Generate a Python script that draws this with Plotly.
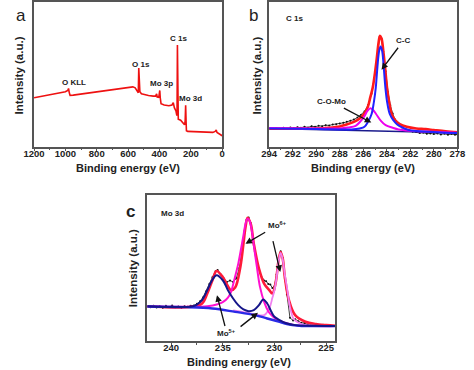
import plotly.graph_objects as go

# ---------------- Panel a: survey spectrum ----------------
survey_be = [1200, 1150, 1100, 1050, 1000, 985, 980, 975, 970, 950, 900, 850, 800, 750, 700,
             650, 600, 570, 555, 545, 535, 532, 529, 525, 515, 500, 470, 440, 425, 418, 414,
             412, 405, 398, 395, 390, 370, 340, 320, 312, 305, 295, 290, 288, 285.5, 283,
             280, 265, 250, 240, 236, 233, 230, 228, 220, 150, 100, 60, 45, 38, 33, 20, 10, 0]
survey_int = [148, 153, 156, 162, 166, 170, 176, 163, 155, 156, 159, 163, 167, 170, 172,
              175, 179, 181, 178, 170, 163, 238, 173, 166, 160, 158, 155, 153, 153, 160, 148,
              153, 148, 170, 148, 130, 126, 124, 126, 133, 118, 108, 96, 96, 308, 88,
              83, 80, 73, 66, 78, 125, 73, 48, 46, 45, 44, 43, 46, 50, 43, 38, 36, 33]
survey_labels = ["O KLL", "O 1s", "Mo 3p", "C 1s", "Mo 3d"]
survey_label_be = [943, 520, 384, 280, 204]
survey_label_int = [195, 248, 190, 326, 146]

# ---------------- Panel b: C 1s ----------------
c1s_raw_be = [294.0, 293.7, 293.4, 293.1, 292.8, 292.5, 292.2, 291.9, 291.6, 291.3, 291.0, 290.7,
              290.4, 290.1, 289.8, 289.5, 289.2, 288.9, 288.6, 288.3, 288.0, 287.7, 287.4, 287.1,
              286.8, 286.5, 286.2, 285.9, 285.6, 285.3, 285.0, 284.8, 284.6, 284.45, 284.3, 284.1,
              283.9, 283.7, 283.5, 283.3, 283.0, 282.7, 282.4, 282.1, 281.8, 281.5, 281.2, 280.9,
              280.6, 280.3, 280.0, 279.7, 279.4, 279.1, 278.8, 278.5, 278.2, 278.0]
c1s_raw_int = [55, 54, 56, 54, 57, 55, 58, 56, 59, 57, 60, 58,
               62, 60, 63, 62, 65, 64, 67, 68, 70, 72, 75, 78,
               82, 88, 96, 106, 125, 160, 222, 280, 333, 326, 288, 228,
               165, 125, 100, 82, 66, 58, 52, 48, 45, 44, 41, 42,
               39, 40, 38, 40, 37, 39, 36, 38, 36, 37]

c1s_env_be = [294, 292, 290, 289, 288, 287.5, 286.8, 286.3, 285.9, 285.6, 285.4, 285.2, 285.0,
              284.85, 284.7, 284.58, 284.45, 284.3, 284.15, 283.98, 283.8, 283.58, 283.3, 282.9,
              282.3, 281.5, 280.7, 280, 279, 278]
c1s_env_int = [54, 54, 55, 57, 61, 66, 75, 85, 100, 122, 150, 178, 225,
               268, 315, 336, 328, 290, 240, 178, 135, 98, 80, 68,
               60, 55, 53, 50, 46, 43]

c1s_cc_be = [294, 290, 287, 286.3, 285.9, 285.6, 285.3, 285.1, 284.94, 284.8, 284.65, 284.53,
             284.4, 284.25, 284.12, 283.95, 283.74, 283.45, 283.14, 282.7, 282.2, 281.5, 280.5,
             279, 278]
c1s_cc_int = [55, 53, 52, 55, 60, 75, 98, 135, 178, 240, 290, 303,
              290, 235, 178, 130, 98, 80, 68, 58, 51, 47, 45,
              42, 41]

c1s_como_be = [294, 290, 288, 287.3, 286.65, 286.2, 285.9, 285.65, 285.4, 285.15, 284.9, 284.5,
               284.1, 283.5, 283, 282, 281, 280, 278]
c1s_como_int = [56, 55, 55, 58, 63, 78, 92, 108, 116, 110, 98, 78,
                65, 57, 52, 48, 46, 45, 42]

c1s_bg_be = [294, 290, 286, 282, 278]
c1s_bg_int = [55, 52, 50, 45, 41]

# ---------------- Panel c: Mo 3d ----------------
mo_raw_be = [242.3, 242.0, 241.7, 241.4, 241.1, 240.8, 240.5, 240.2, 239.9, 239.6, 239.3, 239.0,
             238.7, 238.4, 238.1, 237.8, 237.5, 237.2, 236.9, 236.6, 236.3, 236.0, 235.7, 235.5,
             235.2, 234.9, 234.6, 234.3, 234.0, 233.7, 233.4, 233.1, 232.9, 232.7, 232.5, 232.3,
             232.1, 231.9, 231.6, 231.3, 231.0, 230.8, 230.6, 230.4, 230.2, 230.0, 229.8, 229.6,
             229.4, 229.2, 229.0, 228.8, 228.5, 228.2, 228.0, 227.7, 227.4, 227.1, 226.8, 226.5,
             226.2, 225.9, 225.6, 225.3, 225.0, 224.7, 224.4, 224.1]
mo_raw_int = [104, 102, 106, 101, 105, 100, 106, 103, 107, 102, 104, 100,
              105, 103, 106, 107, 112, 120, 132, 150, 172, 192, 210, 214,
              200, 188, 178, 182, 178, 188, 220, 275, 330, 365, 372, 355,
              310, 270, 230, 198, 182, 180, 172, 170, 160, 165, 200, 250,
              270, 250, 190, 140, 70, 62, 66, 60, 55, 54, 50, 52,
              49, 50, 47, 49, 46, 48, 45, 46]

mo_env_be = [242.3, 238, 237, 236.5, 236, 235.6, 235, 234.5, 234.2, 233.8, 233.3, 233, 232.8,
             232.6, 232.3, 232, 231.5, 231, 230.5, 230.2, 229.9, 229.6, 229.4, 229.2, 229,
             228.6, 228, 227, 226, 225, 224.1]
mo_env_int = [105, 103, 113, 143, 183, 211, 193, 165, 153, 161, 223, 293, 343,
              371, 353, 293, 218, 173, 153, 143, 173, 243, 268, 248, 193,
              123, 78, 58, 51, 48, 46]

mo6_be = [242.3, 238, 236.5, 235.5, 235, 234.5, 234.2, 233.9, 233.5, 233.2, 233, 232.8, 232.6,
          232.4, 232.2, 232, 231.7, 231.4, 231, 230.6, 230.2, 229.8, 229, 228, 224.1]
mo6_int = [105, 103, 105, 111, 117, 131, 148, 183, 233, 283, 318, 353, 368,
           361, 333, 288, 223, 163, 118, 90, 75, 65, 55, 48, 45]

mo6b_be = [234, 232.5, 231.5, 231, 230.5, 230.2, 230, 229.8, 229.6, 229.4, 229.2, 229, 228.8,
           228.5, 228.2, 228, 227.5, 227, 226, 224.1]
mo6b_int = [92, 84, 78, 78, 98, 130, 153, 190, 240, 265, 245, 200, 163,
            103, 70, 62, 53, 48, 46, 45]

mo5_be = [242.3, 238, 237.5, 237, 236.5, 236, 235.6, 235, 234.5, 234, 233.5, 233, 232.5, 232,
          231.5, 231.1, 230.7, 230.3, 230, 229.5, 229, 228, 226, 224.1]
mo5_int = [105, 104, 110, 123, 153, 185, 198, 183, 153, 128, 108, 95, 90, 93,
           108, 125, 113, 88, 73, 63, 55, 48, 46, 45]

mo_bg_be = [242.3, 238.5, 236, 233.8, 232, 230.7, 229.5, 228.8, 227.6, 226, 224.1]
mo_bg_int = [104, 102, 98, 88, 79, 68, 58, 51, 46, 45, 45]

W, H = 474, 370
FONT = "Liberation Sans, Arial, sans-serif"


def px(x):
    return x / W


def py(y):
    return 1 - y / H


fig = go.Figure()

# panel a
fig.add_trace(go.Scatter(x=survey_be, y=survey_int, mode="lines",
                         line=dict(color="#ee1111", width=1.6), xaxis="x", yaxis="y"))

# panel b
fig.add_trace(go.Scatter(x=c1s_raw_be, y=c1s_raw_int, mode="lines+markers",
                         line=dict(color="#111111", width=0.8), marker=dict(size=2, color="#111111"),
                         xaxis="x2", yaxis="y2"))
fig.add_trace(go.Scatter(x=c1s_bg_be, y=c1s_bg_int, mode="lines", line=dict(color="#1a1a8c", width=1.5),
                         xaxis="x2", yaxis="y2"))
fig.add_trace(go.Scatter(x=c1s_env_be, y=c1s_env_int, mode="lines", line_shape="spline",
                         line=dict(color="#ff1a1a", width=2.6), xaxis="x2", yaxis="y2"))
fig.add_trace(go.Scatter(x=c1s_como_be, y=c1s_como_int, mode="lines", line_shape="spline",
                         line=dict(color="#ee00ee", width=2), xaxis="x2", yaxis="y2"))
fig.add_trace(go.Scatter(x=c1s_cc_be, y=c1s_cc_int, mode="lines", line_shape="spline",
                         line=dict(color="#2222ff", width=2), xaxis="x2", yaxis="y2"))

# panel c
fig.add_trace(go.Scatter(x=mo_raw_be, y=mo_raw_int, mode="lines+markers",
                         line=dict(color="#111111", width=0.8), marker=dict(size=2, color="#111111"),
                         xaxis="x3", yaxis="y3"))
fig.add_trace(go.Scatter(x=mo_env_be, y=mo_env_int, mode="lines", line_shape="spline",
                         line=dict(color="#ff1a3a", width=2.6), xaxis="x3", yaxis="y3"))
fig.add_trace(go.Scatter(x=mo6b_be, y=mo6b_int, mode="lines", line_shape="spline",
                         line=dict(color="#f080f0", width=1.8), xaxis="x3", yaxis="y3"))
fig.add_trace(go.Scatter(x=mo6_be, y=mo6_int, mode="lines", line_shape="spline",
                         line=dict(color="#ff10d0", width=2), xaxis="x3", yaxis="y3"))
fig.add_trace(go.Scatter(x=mo_bg_be, y=mo_bg_int, mode="lines", line_shape="spline",
                         line=dict(color="#2a2ae6", width=2.4), xaxis="x3", yaxis="y3"))
fig.add_trace(go.Scatter(x=mo5_be, y=mo5_int, mode="lines", line_shape="spline",
                         line=dict(color="#15158a", width=2), xaxis="x3", yaxis="y3"))

axis_common = dict(showline=True, linecolor="#555555", linewidth=1.5, mirror=True,
                   showgrid=False, zeroline=False, ticks="outside", ticklen=3, tickwidth=1,
                   tickcolor="#555555", ticklabelstandoff=-6,
                   tickfont=dict(family=FONT, size=9.5, color="#222222", weight="bold"))
yaxis_common = dict(showline=True, linecolor="#555555", linewidth=1.5, mirror=True,
                    showgrid=False, zeroline=False, showticklabels=False, ticks="",
                    range=[0, 438])

fig.update_layout(
    width=W, height=H, margin=dict(l=0, r=0, t=0, b=0),
    paper_bgcolor="white", plot_bgcolor="white", showlegend=False,
    xaxis=dict(axis_common, domain=[px(24), px(220)], range=[1200, 0], dtick=200,
               minor=dict(dtick=100, ticks="outside", ticklen=2, tickcolor="#555555"),
               anchor="y"),
    yaxis=dict(yaxis_common, domain=[py(146), py(1)], anchor="x"),
    xaxis2=dict(axis_common, domain=[px(269), px(465)], range=[294, 278], dtick=2,
                minor=dict(dtick=1, ticks="outside", ticklen=2, tickcolor="#555555"),
                anchor="y2"),
    yaxis2=dict(yaxis_common, domain=[py(146), py(1)], anchor="x2"),
    xaxis3=dict(axis_common, domain=[px(142), px(338)], range=[242.3, 224.1], dtick=5,
                minor=dict(dtick=2.5, ticks="outside", ticklen=2, tickcolor="#555555"),
                anchor="y3"),
    yaxis3=dict(yaxis_common, domain=[py(341), py(195)], anchor="x3"),
)

ann = []
bold = dict(family=FONT, size=11, color="#222222", weight="bold")
# axis titles
for cx, cy in [(122, 167), (367, 167), (238, 362)]:
    ann.append(dict(x=px(cx), y=py(cy), xref="paper", yref="paper", text="Binding energy (eV)",
                    showarrow=False, font=bold, xanchor="center", yanchor="middle"))
for cx, cy in [(8, 75), (256, 75), (127, 268)]:
    ann.append(dict(x=px(cx), y=py(cy), xref="paper", yref="paper", text="Intensity (a.u.)",
                    textangle=-90, showarrow=False, font=dict(bold, size=11.5),
                    xanchor="center", yanchor="middle"))
# panel letters
for t, cx, cy, w in [("a", 10, 15, "normal"), ("b", 253, 15, "normal"), ("c", 125, 211, "bold")]:
    ann.append(dict(x=px(cx), y=py(cy), xref="paper", yref="paper", text=t, showarrow=False,
                    font=dict(family=FONT, size=17, color="#222222", weight=w),
                    xanchor="center", yanchor="middle"))
small = dict(family=FONT, size=8, color="#222222", weight="bold")
ann.append(dict(x=px(295), y=py(18), xref="paper", yref="paper", text="C 1s", showarrow=False,
                font=small, xanchor="center", yanchor="middle"))
ann.append(dict(x=px(168), y=py(213), xref="paper", yref="paper", text="Mo 3d", showarrow=False,
                font=small, xanchor="center", yanchor="middle"))
# survey peak labels
for t, bx, iy in zip(survey_labels, survey_label_be, survey_label_int):
    ann.append(dict(x=bx, y=iy, xref="x", yref="y", text=t, showarrow=False, font=small,
                    xanchor="center", yanchor="middle"))

arrow = dict(showarrow=True, arrowhead=2, arrowsize=1, arrowwidth=1.3, arrowcolor="#111111",
             standoff=0, startstandoff=1)

# panel b labels with arrows (text sits at the arrow tail)
ann.append(dict(arrow, text="C-C", font=small, x=284.45, y=233, ax=282.6, ay=320,
                xref="x2", yref="y2", axref="x2", ayref="y2"))
ann.append(dict(arrow, text="C-O-Mo", font=small, x=285.32, y=73, ax=288.7, ay=136,
                xref="x2", yref="y2", axref="x2", ayref="y2"))

# panel c labels & arrows
ann.append(dict(arrow, text="Mo<sup>6+</sup>", font=small, x=232.8, y=293, ax=229.75, ay=348,
                xref="x3", yref="y3", axref="x3", ayref="y3"))
ann.append(dict(arrow, text="", x=229.44, y=208, ax=230.2, ay=308,
                xref="x3", yref="y3", axref="x3", ayref="y3"))
ann.append(dict(arrow, text="Mo<sup>5+</sup>", font=small, x=235.56, y=138, ax=234.6, ay=23,
                xref="x3", yref="y3", axref="x3", ayref="y3"))
ann.append(dict(arrow, text="", x=231.6, y=85, ax=233.5, ay=38,
                xref="x3", yref="y3", axref="x3", ayref="y3"))

fig.update_layout(annotations=ann)
fig.write_html("out.html", config={"displayModeBar": False},
               post_script="document.body.style.margin='0px';document.body.style.overflow='hidden';")
